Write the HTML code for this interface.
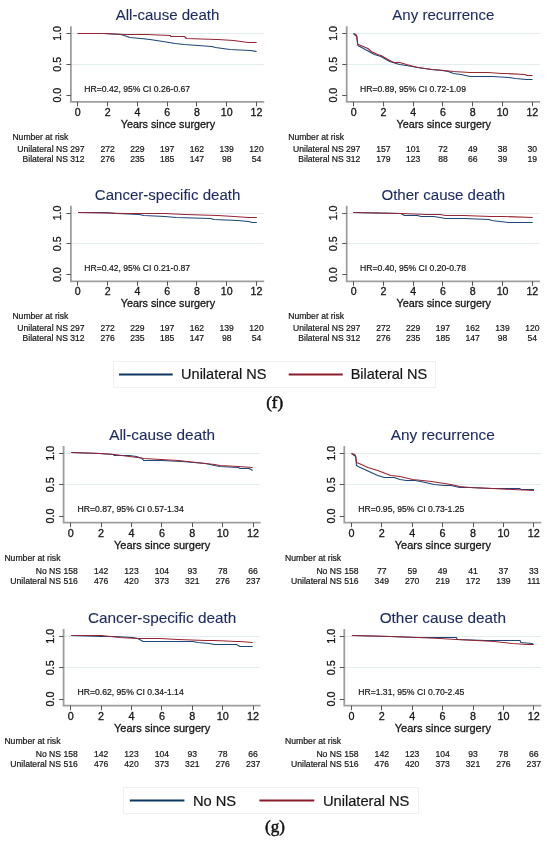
<!DOCTYPE html><html><head><meta charset="utf-8"><title>Kaplan-Meier curves</title><style>html,body{margin:0;padding:0;background:#fff;width:550px;height:841px;overflow:hidden}svg{display:block}text{font-family:"Liberation Sans",Arial,sans-serif}.lab{font-family:"Liberation Serif","Times New Roman",serif}</style></head><body>
<svg width="550" height="841" viewBox="0 0 550 841">
<rect width="550" height="841" fill="#fff"/>
<line x1="71.9" y1="33.5" x2="264.2" y2="33.5" stroke="#e3eded" stroke-width="1"/>
<line x1="71.9" y1="64.5" x2="264.2" y2="64.5" stroke="#e3eded" stroke-width="1"/>
<polyline points="77.7,33.5 104,33.5 121,34.5 124,35.5 130,37.5 141,38.5 150,39.5 163,41.5 175,43.5 184.5,44.5 211.8,46.5 215.5,47.5 230,49.5 250,50.5 256.6,51.5" fill="none" stroke="#1b4677" stroke-width="1.1" stroke-linejoin="round"/>
<polyline points="77.7,33.5 104,33.5 125,34.5 147,34.5 170,35.5 171,36.5 184.5,36.5 186.4,38.5 217.3,39.5 218,39.5 233.6,40.5 248.2,42.5 256.6,42.5" fill="none" stroke="#972434" stroke-width="1.1" stroke-linejoin="round"/>
<path d="M70.9 26.3 V101.8 H264.2" fill="none" stroke="#9e9e9e" stroke-width="1.8"/>
<line x1="66.4" y1="95.5" x2="70.9" y2="95.5" stroke="#555555" stroke-width="1"/>
<text transform="translate(61.4 95.2) rotate(-90)" font-size="10.6" text-anchor="middle" fill="#161616" stroke="#161616" stroke-width="0.3">0.0</text>
<line x1="66.4" y1="64.5" x2="70.9" y2="64.5" stroke="#555555" stroke-width="1"/>
<text transform="translate(61.4 64.35) rotate(-90)" font-size="10.6" text-anchor="middle" fill="#161616" stroke="#161616" stroke-width="0.3">0.5</text>
<line x1="66.4" y1="33.5" x2="70.9" y2="33.5" stroke="#555555" stroke-width="1"/>
<text transform="translate(61.4 33.5) rotate(-90)" font-size="10.6" text-anchor="middle" fill="#161616" stroke="#161616" stroke-width="0.3">1.0</text>
<line x1="77.5" y1="101.8" x2="77.5" y2="106.3" stroke="#555555" stroke-width="1"/>
<text x="77.8" y="115.8" font-size="10.6" text-anchor="middle" fill="#161616" stroke="#161616" stroke-width="0.3">0</text>
<line x1="107.5" y1="101.8" x2="107.5" y2="106.3" stroke="#555555" stroke-width="1"/>
<text x="107.59" y="115.8" font-size="10.6" text-anchor="middle" fill="#161616" stroke="#161616" stroke-width="0.3">2</text>
<line x1="137.5" y1="101.8" x2="137.5" y2="106.3" stroke="#555555" stroke-width="1"/>
<text x="137.37" y="115.8" font-size="10.6" text-anchor="middle" fill="#161616" stroke="#161616" stroke-width="0.3">4</text>
<line x1="167.5" y1="101.8" x2="167.5" y2="106.3" stroke="#555555" stroke-width="1"/>
<text x="167.16" y="115.8" font-size="10.6" text-anchor="middle" fill="#161616" stroke="#161616" stroke-width="0.3">6</text>
<line x1="196.5" y1="101.8" x2="196.5" y2="106.3" stroke="#555555" stroke-width="1"/>
<text x="196.94" y="115.8" font-size="10.6" text-anchor="middle" fill="#161616" stroke="#161616" stroke-width="0.3">8</text>
<line x1="226.5" y1="101.8" x2="226.5" y2="106.3" stroke="#555555" stroke-width="1"/>
<text x="226.73" y="115.8" font-size="10.6" text-anchor="middle" fill="#161616" stroke="#161616" stroke-width="0.3">10</text>
<line x1="256.5" y1="101.8" x2="256.5" y2="106.3" stroke="#555555" stroke-width="1"/>
<text x="256.52" y="115.8" font-size="10.6" text-anchor="middle" fill="#161616" stroke="#161616" stroke-width="0.3">12</text>
<text x="167.9" y="127.7" font-size="10.8" text-anchor="middle" fill="#161616" stroke="#161616" stroke-width="0.3">Years since surgery</text>
<text x="167.55" y="20.1" font-size="15.05" text-anchor="middle" fill="#1e2b5e" stroke="#1e2b5e" stroke-width="0.12">All-cause death</text>
<text x="84.3" y="91.8" font-size="8.6" text-anchor="start" fill="#161616" stroke="#161616" stroke-width="0.2">HR=0.42, 95% CI 0.26-0.67</text>
<text x="12.4" y="139.5" font-size="8.6" text-anchor="start" fill="#161616" stroke="#161616" stroke-width="0.2">Number at risk</text>
<text x="84.6" y="151.8" font-size="8.6" text-anchor="end" fill="#161616" stroke="#161616" stroke-width="0.2">Unilateral NS 297</text>
<text x="107.59" y="151.8" font-size="8.6" text-anchor="middle" fill="#161616" stroke="#161616" stroke-width="0.2">272</text>
<text x="137.37" y="151.8" font-size="8.6" text-anchor="middle" fill="#161616" stroke="#161616" stroke-width="0.2">229</text>
<text x="167.16" y="151.8" font-size="8.6" text-anchor="middle" fill="#161616" stroke="#161616" stroke-width="0.2">197</text>
<text x="196.94" y="151.8" font-size="8.6" text-anchor="middle" fill="#161616" stroke="#161616" stroke-width="0.2">162</text>
<text x="226.73" y="151.8" font-size="8.6" text-anchor="middle" fill="#161616" stroke="#161616" stroke-width="0.2">139</text>
<text x="256.52" y="151.8" font-size="8.6" text-anchor="middle" fill="#161616" stroke="#161616" stroke-width="0.2">120</text>
<text x="84.6" y="161.5" font-size="8.6" text-anchor="end" fill="#161616" stroke="#161616" stroke-width="0.2">Bilateral NS 312</text>
<text x="107.59" y="161.5" font-size="8.6" text-anchor="middle" fill="#161616" stroke="#161616" stroke-width="0.2">276</text>
<text x="137.37" y="161.5" font-size="8.6" text-anchor="middle" fill="#161616" stroke="#161616" stroke-width="0.2">235</text>
<text x="167.16" y="161.5" font-size="8.6" text-anchor="middle" fill="#161616" stroke="#161616" stroke-width="0.2">185</text>
<text x="196.94" y="161.5" font-size="8.6" text-anchor="middle" fill="#161616" stroke="#161616" stroke-width="0.2">147</text>
<text x="226.73" y="161.5" font-size="8.6" text-anchor="middle" fill="#161616" stroke="#161616" stroke-width="0.2">98</text>
<text x="256.52" y="161.5" font-size="8.6" text-anchor="middle" fill="#161616" stroke="#161616" stroke-width="0.2">54</text>
<line x1="347.7" y1="33.5" x2="540" y2="33.5" stroke="#e3eded" stroke-width="1"/>
<line x1="347.7" y1="64.5" x2="540" y2="64.5" stroke="#e3eded" stroke-width="1"/>
<polyline points="353.5,33.5 356.8,36.5 357.9,45.5 363.5,48.5 374.4,54.5 381,56.5 389.7,61.5 399.5,64.5 406.4,65.5 417.8,67.5 431.8,69.5 442,70.5 448.3,71.5 453.4,73.5 461,74.5 470,76.5 478.6,76.5 492.3,76.5 508.7,77.5 515.5,78.5 526.4,79.5 532.5,79.5" fill="none" stroke="#1b4677" stroke-width="1.1" stroke-linejoin="round"/>
<polyline points="353.5,33.5 355.9,34.5 356.8,36.5 357.5,43.5 358.3,44.5 367.9,48.5 371.2,51.5 377.7,54.5 381,55.5 389.7,60.5 394.1,62.5 399.5,62.5 403.2,63.5 406.4,64.5 417.8,67.5 431.8,69.5 444.5,70.5 453.4,71.5 470,72.5 488.2,72.5 501.8,73.5 504.6,73.5 525,74.5 527.1,75.5 532.5,75.5" fill="none" stroke="#972434" stroke-width="1.1" stroke-linejoin="round"/>
<path d="M346.7 26.3 V101.8 H540" fill="none" stroke="#9e9e9e" stroke-width="1.8"/>
<line x1="342.2" y1="95.5" x2="346.7" y2="95.5" stroke="#555555" stroke-width="1"/>
<text transform="translate(337.2 95.2) rotate(-90)" font-size="10.6" text-anchor="middle" fill="#161616" stroke="#161616" stroke-width="0.3">0.0</text>
<line x1="342.2" y1="64.5" x2="346.7" y2="64.5" stroke="#555555" stroke-width="1"/>
<text transform="translate(337.2 64.35) rotate(-90)" font-size="10.6" text-anchor="middle" fill="#161616" stroke="#161616" stroke-width="0.3">0.5</text>
<line x1="342.2" y1="33.5" x2="346.7" y2="33.5" stroke="#555555" stroke-width="1"/>
<text transform="translate(337.2 33.5) rotate(-90)" font-size="10.6" text-anchor="middle" fill="#161616" stroke="#161616" stroke-width="0.3">1.0</text>
<line x1="353.5" y1="101.8" x2="353.5" y2="106.3" stroke="#555555" stroke-width="1"/>
<text x="353.6" y="115.8" font-size="10.6" text-anchor="middle" fill="#161616" stroke="#161616" stroke-width="0.3">0</text>
<line x1="383.5" y1="101.8" x2="383.5" y2="106.3" stroke="#555555" stroke-width="1"/>
<text x="383.39" y="115.8" font-size="10.6" text-anchor="middle" fill="#161616" stroke="#161616" stroke-width="0.3">2</text>
<line x1="413.5" y1="101.8" x2="413.5" y2="106.3" stroke="#555555" stroke-width="1"/>
<text x="413.17" y="115.8" font-size="10.6" text-anchor="middle" fill="#161616" stroke="#161616" stroke-width="0.3">4</text>
<line x1="442.5" y1="101.8" x2="442.5" y2="106.3" stroke="#555555" stroke-width="1"/>
<text x="442.96" y="115.8" font-size="10.6" text-anchor="middle" fill="#161616" stroke="#161616" stroke-width="0.3">6</text>
<line x1="472.5" y1="101.8" x2="472.5" y2="106.3" stroke="#555555" stroke-width="1"/>
<text x="472.74" y="115.8" font-size="10.6" text-anchor="middle" fill="#161616" stroke="#161616" stroke-width="0.3">8</text>
<line x1="502.5" y1="101.8" x2="502.5" y2="106.3" stroke="#555555" stroke-width="1"/>
<text x="502.53" y="115.8" font-size="10.6" text-anchor="middle" fill="#161616" stroke="#161616" stroke-width="0.3">10</text>
<line x1="532.5" y1="101.8" x2="532.5" y2="106.3" stroke="#555555" stroke-width="1"/>
<text x="532.32" y="115.8" font-size="10.6" text-anchor="middle" fill="#161616" stroke="#161616" stroke-width="0.3">12</text>
<text x="443.7" y="127.7" font-size="10.8" text-anchor="middle" fill="#161616" stroke="#161616" stroke-width="0.3">Years since surgery</text>
<text x="443.35" y="20.1" font-size="15.05" text-anchor="middle" fill="#1e2b5e" stroke="#1e2b5e" stroke-width="0.12">Any recurrence</text>
<text x="360.1" y="91.8" font-size="8.6" text-anchor="start" fill="#161616" stroke="#161616" stroke-width="0.2">HR=0.89, 95% CI 0.72-1.09</text>
<text x="288.2" y="139.5" font-size="8.6" text-anchor="start" fill="#161616" stroke="#161616" stroke-width="0.2">Number at risk</text>
<text x="360.4" y="151.8" font-size="8.6" text-anchor="end" fill="#161616" stroke="#161616" stroke-width="0.2">Unilateral NS 297</text>
<text x="383.39" y="151.8" font-size="8.6" text-anchor="middle" fill="#161616" stroke="#161616" stroke-width="0.2">157</text>
<text x="413.17" y="151.8" font-size="8.6" text-anchor="middle" fill="#161616" stroke="#161616" stroke-width="0.2">101</text>
<text x="442.96" y="151.8" font-size="8.6" text-anchor="middle" fill="#161616" stroke="#161616" stroke-width="0.2">72</text>
<text x="472.74" y="151.8" font-size="8.6" text-anchor="middle" fill="#161616" stroke="#161616" stroke-width="0.2">49</text>
<text x="502.53" y="151.8" font-size="8.6" text-anchor="middle" fill="#161616" stroke="#161616" stroke-width="0.2">38</text>
<text x="532.32" y="151.8" font-size="8.6" text-anchor="middle" fill="#161616" stroke="#161616" stroke-width="0.2">30</text>
<text x="360.4" y="161.5" font-size="8.6" text-anchor="end" fill="#161616" stroke="#161616" stroke-width="0.2">Bilateral NS 312</text>
<text x="383.39" y="161.5" font-size="8.6" text-anchor="middle" fill="#161616" stroke="#161616" stroke-width="0.2">179</text>
<text x="413.17" y="161.5" font-size="8.6" text-anchor="middle" fill="#161616" stroke="#161616" stroke-width="0.2">123</text>
<text x="442.96" y="161.5" font-size="8.6" text-anchor="middle" fill="#161616" stroke="#161616" stroke-width="0.2">88</text>
<text x="472.74" y="161.5" font-size="8.6" text-anchor="middle" fill="#161616" stroke="#161616" stroke-width="0.2">66</text>
<text x="502.53" y="161.5" font-size="8.6" text-anchor="middle" fill="#161616" stroke="#161616" stroke-width="0.2">39</text>
<text x="532.32" y="161.5" font-size="8.6" text-anchor="middle" fill="#161616" stroke="#161616" stroke-width="0.2">19</text>
<line x1="71.9" y1="213.5" x2="264.2" y2="213.5" stroke="#e3eded" stroke-width="1"/>
<line x1="71.9" y1="243.5" x2="264.2" y2="243.5" stroke="#e3eded" stroke-width="1"/>
<polyline points="78.1,212.5 106,212.5 116.5,213.5 139,214.5 144,215.5 165,216.5 176,217.5 210.5,218.5 214,219.5 237.7,220.5 248.6,221.5 252.3,222.5 256.8,222.5" fill="none" stroke="#1b4677" stroke-width="1.1" stroke-linejoin="round"/>
<polyline points="78.1,212.5 126.8,213.5 165,213.5 185,214.5 217.7,215.5 234,216.5 248.6,217.5 256.8,217.5" fill="none" stroke="#972434" stroke-width="1.1" stroke-linejoin="round"/>
<path d="M70.9 205.8 V281.3 H264.2" fill="none" stroke="#9e9e9e" stroke-width="1.8"/>
<line x1="66.4" y1="274.5" x2="70.9" y2="274.5" stroke="#555555" stroke-width="1"/>
<text transform="translate(61.4 274.7) rotate(-90)" font-size="10.6" text-anchor="middle" fill="#161616" stroke="#161616" stroke-width="0.3">0.0</text>
<line x1="66.4" y1="243.5" x2="70.9" y2="243.5" stroke="#555555" stroke-width="1"/>
<text transform="translate(61.4 243.85) rotate(-90)" font-size="10.6" text-anchor="middle" fill="#161616" stroke="#161616" stroke-width="0.3">0.5</text>
<line x1="66.4" y1="213.5" x2="70.9" y2="213.5" stroke="#555555" stroke-width="1"/>
<text transform="translate(61.4 213) rotate(-90)" font-size="10.6" text-anchor="middle" fill="#161616" stroke="#161616" stroke-width="0.3">1.0</text>
<line x1="77.5" y1="281.3" x2="77.5" y2="285.8" stroke="#555555" stroke-width="1"/>
<text x="77.8" y="295.3" font-size="10.6" text-anchor="middle" fill="#161616" stroke="#161616" stroke-width="0.3">0</text>
<line x1="107.5" y1="281.3" x2="107.5" y2="285.8" stroke="#555555" stroke-width="1"/>
<text x="107.59" y="295.3" font-size="10.6" text-anchor="middle" fill="#161616" stroke="#161616" stroke-width="0.3">2</text>
<line x1="137.5" y1="281.3" x2="137.5" y2="285.8" stroke="#555555" stroke-width="1"/>
<text x="137.37" y="295.3" font-size="10.6" text-anchor="middle" fill="#161616" stroke="#161616" stroke-width="0.3">4</text>
<line x1="167.5" y1="281.3" x2="167.5" y2="285.8" stroke="#555555" stroke-width="1"/>
<text x="167.16" y="295.3" font-size="10.6" text-anchor="middle" fill="#161616" stroke="#161616" stroke-width="0.3">6</text>
<line x1="196.5" y1="281.3" x2="196.5" y2="285.8" stroke="#555555" stroke-width="1"/>
<text x="196.94" y="295.3" font-size="10.6" text-anchor="middle" fill="#161616" stroke="#161616" stroke-width="0.3">8</text>
<line x1="226.5" y1="281.3" x2="226.5" y2="285.8" stroke="#555555" stroke-width="1"/>
<text x="226.73" y="295.3" font-size="10.6" text-anchor="middle" fill="#161616" stroke="#161616" stroke-width="0.3">10</text>
<line x1="256.5" y1="281.3" x2="256.5" y2="285.8" stroke="#555555" stroke-width="1"/>
<text x="256.52" y="295.3" font-size="10.6" text-anchor="middle" fill="#161616" stroke="#161616" stroke-width="0.3">12</text>
<text x="167.9" y="307.2" font-size="10.8" text-anchor="middle" fill="#161616" stroke="#161616" stroke-width="0.3">Years since surgery</text>
<text x="167.55" y="199.6" font-size="15.05" text-anchor="middle" fill="#1e2b5e" stroke="#1e2b5e" stroke-width="0.12">Cancer-specific death</text>
<text x="84.3" y="271.3" font-size="8.6" text-anchor="start" fill="#161616" stroke="#161616" stroke-width="0.2">HR=0.42, 95% CI 0.21-0.87</text>
<text x="12.4" y="319" font-size="8.6" text-anchor="start" fill="#161616" stroke="#161616" stroke-width="0.2">Number at risk</text>
<text x="84.6" y="331.3" font-size="8.6" text-anchor="end" fill="#161616" stroke="#161616" stroke-width="0.2">Unilateral NS 297</text>
<text x="107.59" y="331.3" font-size="8.6" text-anchor="middle" fill="#161616" stroke="#161616" stroke-width="0.2">272</text>
<text x="137.37" y="331.3" font-size="8.6" text-anchor="middle" fill="#161616" stroke="#161616" stroke-width="0.2">229</text>
<text x="167.16" y="331.3" font-size="8.6" text-anchor="middle" fill="#161616" stroke="#161616" stroke-width="0.2">197</text>
<text x="196.94" y="331.3" font-size="8.6" text-anchor="middle" fill="#161616" stroke="#161616" stroke-width="0.2">162</text>
<text x="226.73" y="331.3" font-size="8.6" text-anchor="middle" fill="#161616" stroke="#161616" stroke-width="0.2">139</text>
<text x="256.52" y="331.3" font-size="8.6" text-anchor="middle" fill="#161616" stroke="#161616" stroke-width="0.2">120</text>
<text x="84.6" y="341" font-size="8.6" text-anchor="end" fill="#161616" stroke="#161616" stroke-width="0.2">Bilateral NS 312</text>
<text x="107.59" y="341" font-size="8.6" text-anchor="middle" fill="#161616" stroke="#161616" stroke-width="0.2">276</text>
<text x="137.37" y="341" font-size="8.6" text-anchor="middle" fill="#161616" stroke="#161616" stroke-width="0.2">235</text>
<text x="167.16" y="341" font-size="8.6" text-anchor="middle" fill="#161616" stroke="#161616" stroke-width="0.2">185</text>
<text x="196.94" y="341" font-size="8.6" text-anchor="middle" fill="#161616" stroke="#161616" stroke-width="0.2">147</text>
<text x="226.73" y="341" font-size="8.6" text-anchor="middle" fill="#161616" stroke="#161616" stroke-width="0.2">98</text>
<text x="256.52" y="341" font-size="8.6" text-anchor="middle" fill="#161616" stroke="#161616" stroke-width="0.2">54</text>
<line x1="347.7" y1="213.5" x2="540" y2="213.5" stroke="#e3eded" stroke-width="1"/>
<line x1="347.7" y1="243.5" x2="540" y2="243.5" stroke="#e3eded" stroke-width="1"/>
<polyline points="353.3,212.5 401,213.5 404.5,215.5 417.3,215.5 421,216.5 433.6,216.5 440,217.5 445.5,218.5 463.6,218.5 489,219.5 491.8,220.5 500,221.5 509,222.5 516.4,222.5 532.7,222.5" fill="none" stroke="#1b4677" stroke-width="1.1" stroke-linejoin="round"/>
<polyline points="353.3,212.5 401,213.5 426.4,214.5 440,214.5 445.5,215.5 461.8,215.5 463.6,215.5 490.9,216.5 503.6,216.5 532.7,217.5" fill="none" stroke="#972434" stroke-width="1.1" stroke-linejoin="round"/>
<path d="M346.7 205.8 V281.3 H540" fill="none" stroke="#9e9e9e" stroke-width="1.8"/>
<line x1="342.2" y1="274.5" x2="346.7" y2="274.5" stroke="#555555" stroke-width="1"/>
<text transform="translate(337.2 274.7) rotate(-90)" font-size="10.6" text-anchor="middle" fill="#161616" stroke="#161616" stroke-width="0.3">0.0</text>
<line x1="342.2" y1="243.5" x2="346.7" y2="243.5" stroke="#555555" stroke-width="1"/>
<text transform="translate(337.2 243.85) rotate(-90)" font-size="10.6" text-anchor="middle" fill="#161616" stroke="#161616" stroke-width="0.3">0.5</text>
<line x1="342.2" y1="213.5" x2="346.7" y2="213.5" stroke="#555555" stroke-width="1"/>
<text transform="translate(337.2 213) rotate(-90)" font-size="10.6" text-anchor="middle" fill="#161616" stroke="#161616" stroke-width="0.3">1.0</text>
<line x1="353.5" y1="281.3" x2="353.5" y2="285.8" stroke="#555555" stroke-width="1"/>
<text x="353.6" y="295.3" font-size="10.6" text-anchor="middle" fill="#161616" stroke="#161616" stroke-width="0.3">0</text>
<line x1="383.5" y1="281.3" x2="383.5" y2="285.8" stroke="#555555" stroke-width="1"/>
<text x="383.39" y="295.3" font-size="10.6" text-anchor="middle" fill="#161616" stroke="#161616" stroke-width="0.3">2</text>
<line x1="413.5" y1="281.3" x2="413.5" y2="285.8" stroke="#555555" stroke-width="1"/>
<text x="413.17" y="295.3" font-size="10.6" text-anchor="middle" fill="#161616" stroke="#161616" stroke-width="0.3">4</text>
<line x1="442.5" y1="281.3" x2="442.5" y2="285.8" stroke="#555555" stroke-width="1"/>
<text x="442.96" y="295.3" font-size="10.6" text-anchor="middle" fill="#161616" stroke="#161616" stroke-width="0.3">6</text>
<line x1="472.5" y1="281.3" x2="472.5" y2="285.8" stroke="#555555" stroke-width="1"/>
<text x="472.74" y="295.3" font-size="10.6" text-anchor="middle" fill="#161616" stroke="#161616" stroke-width="0.3">8</text>
<line x1="502.5" y1="281.3" x2="502.5" y2="285.8" stroke="#555555" stroke-width="1"/>
<text x="502.53" y="295.3" font-size="10.6" text-anchor="middle" fill="#161616" stroke="#161616" stroke-width="0.3">10</text>
<line x1="532.5" y1="281.3" x2="532.5" y2="285.8" stroke="#555555" stroke-width="1"/>
<text x="532.32" y="295.3" font-size="10.6" text-anchor="middle" fill="#161616" stroke="#161616" stroke-width="0.3">12</text>
<text x="443.7" y="307.2" font-size="10.8" text-anchor="middle" fill="#161616" stroke="#161616" stroke-width="0.3">Years since surgery</text>
<text x="443.35" y="199.6" font-size="15.05" text-anchor="middle" fill="#1e2b5e" stroke="#1e2b5e" stroke-width="0.12">Other cause death</text>
<text x="360.1" y="271.3" font-size="8.6" text-anchor="start" fill="#161616" stroke="#161616" stroke-width="0.2">HR=0.40, 95% CI 0.20-0.78</text>
<text x="288.2" y="319" font-size="8.6" text-anchor="start" fill="#161616" stroke="#161616" stroke-width="0.2">Number at risk</text>
<text x="360.4" y="331.3" font-size="8.6" text-anchor="end" fill="#161616" stroke="#161616" stroke-width="0.2">Unilateral NS 297</text>
<text x="383.39" y="331.3" font-size="8.6" text-anchor="middle" fill="#161616" stroke="#161616" stroke-width="0.2">272</text>
<text x="413.17" y="331.3" font-size="8.6" text-anchor="middle" fill="#161616" stroke="#161616" stroke-width="0.2">229</text>
<text x="442.96" y="331.3" font-size="8.6" text-anchor="middle" fill="#161616" stroke="#161616" stroke-width="0.2">197</text>
<text x="472.74" y="331.3" font-size="8.6" text-anchor="middle" fill="#161616" stroke="#161616" stroke-width="0.2">162</text>
<text x="502.53" y="331.3" font-size="8.6" text-anchor="middle" fill="#161616" stroke="#161616" stroke-width="0.2">139</text>
<text x="532.32" y="331.3" font-size="8.6" text-anchor="middle" fill="#161616" stroke="#161616" stroke-width="0.2">120</text>
<text x="360.4" y="341" font-size="8.6" text-anchor="end" fill="#161616" stroke="#161616" stroke-width="0.2">Bilateral NS 312</text>
<text x="383.39" y="341" font-size="8.6" text-anchor="middle" fill="#161616" stroke="#161616" stroke-width="0.2">276</text>
<text x="413.17" y="341" font-size="8.6" text-anchor="middle" fill="#161616" stroke="#161616" stroke-width="0.2">235</text>
<text x="442.96" y="341" font-size="8.6" text-anchor="middle" fill="#161616" stroke="#161616" stroke-width="0.2">185</text>
<text x="472.74" y="341" font-size="8.6" text-anchor="middle" fill="#161616" stroke="#161616" stroke-width="0.2">147</text>
<text x="502.53" y="341" font-size="8.6" text-anchor="middle" fill="#161616" stroke="#161616" stroke-width="0.2">98</text>
<text x="532.32" y="341" font-size="8.6" text-anchor="middle" fill="#161616" stroke="#161616" stroke-width="0.2">54</text>
<line x1="64.6" y1="453.5" x2="260.6" y2="453.5" stroke="#e3eded" stroke-width="1"/>
<line x1="64.6" y1="484.5" x2="260.6" y2="484.5" stroke="#e3eded" stroke-width="1"/>
<polyline points="71,452.5 100,453.5 113.1,454.5 114.5,455.5 123.3,455.5 129.1,455.5 136.4,456.5 142.2,458.5 143.6,460.5 161.1,460.5 181.8,461.5 205.5,463.5 214.5,465.5 220,466.5 238.2,467.5 240,468.5 249.1,468.5 252.7,470.5" fill="none" stroke="#1b4677" stroke-width="1.1" stroke-linejoin="round"/>
<polyline points="71,452.5 100,453.5 114.5,454.5 129.1,456.5 137.8,457.5 143.6,458.5 161.1,459.5 178.2,460.5 196.4,462.5 214.5,464.5 220,465.5 238.2,466.5 252.7,467.5" fill="none" stroke="#972434" stroke-width="1.1" stroke-linejoin="round"/>
<path d="M63.6 446 V522.6 H260.6" fill="none" stroke="#9e9e9e" stroke-width="1.8"/>
<line x1="59.1" y1="516.5" x2="63.6" y2="516.5" stroke="#555555" stroke-width="1"/>
<text transform="translate(54 516.1) rotate(-90)" font-size="10.8" text-anchor="middle" fill="#161616" stroke="#161616" stroke-width="0.3">0.0</text>
<line x1="59.1" y1="484.5" x2="63.6" y2="484.5" stroke="#555555" stroke-width="1"/>
<text transform="translate(54 484.7) rotate(-90)" font-size="10.8" text-anchor="middle" fill="#161616" stroke="#161616" stroke-width="0.3">0.5</text>
<line x1="59.1" y1="453.5" x2="63.6" y2="453.5" stroke="#555555" stroke-width="1"/>
<text transform="translate(54 453.3) rotate(-90)" font-size="10.8" text-anchor="middle" fill="#161616" stroke="#161616" stroke-width="0.3">1.0</text>
<line x1="70.5" y1="522.6" x2="70.5" y2="527.1" stroke="#555555" stroke-width="1"/>
<text x="70.7" y="537.3" font-size="10.8" text-anchor="middle" fill="#161616" stroke="#161616" stroke-width="0.3">0</text>
<line x1="101.5" y1="522.6" x2="101.5" y2="527.1" stroke="#555555" stroke-width="1"/>
<text x="101.1" y="537.3" font-size="10.8" text-anchor="middle" fill="#161616" stroke="#161616" stroke-width="0.3">2</text>
<line x1="131.5" y1="522.6" x2="131.5" y2="527.1" stroke="#555555" stroke-width="1"/>
<text x="131.5" y="537.3" font-size="10.8" text-anchor="middle" fill="#161616" stroke="#161616" stroke-width="0.3">4</text>
<line x1="161.5" y1="522.6" x2="161.5" y2="527.1" stroke="#555555" stroke-width="1"/>
<text x="161.9" y="537.3" font-size="10.8" text-anchor="middle" fill="#161616" stroke="#161616" stroke-width="0.3">6</text>
<line x1="192.5" y1="522.6" x2="192.5" y2="527.1" stroke="#555555" stroke-width="1"/>
<text x="192.3" y="537.3" font-size="10.8" text-anchor="middle" fill="#161616" stroke="#161616" stroke-width="0.3">8</text>
<line x1="222.5" y1="522.6" x2="222.5" y2="527.1" stroke="#555555" stroke-width="1"/>
<text x="222.7" y="537.3" font-size="10.8" text-anchor="middle" fill="#161616" stroke="#161616" stroke-width="0.3">10</text>
<line x1="253.5" y1="522.6" x2="253.5" y2="527.1" stroke="#555555" stroke-width="1"/>
<text x="253.1" y="537.3" font-size="10.8" text-anchor="middle" fill="#161616" stroke="#161616" stroke-width="0.3">12</text>
<text x="162.1" y="549.1" font-size="11" text-anchor="middle" fill="#161616" stroke="#161616" stroke-width="0.3">Years since surgery</text>
<text x="162.1" y="440.4" font-size="15.35" text-anchor="middle" fill="#1e2b5e" stroke="#1e2b5e" stroke-width="0.12">All-cause death</text>
<text x="77.5" y="512.2" font-size="8.65" text-anchor="start" fill="#161616" stroke="#161616" stroke-width="0.2">HR=0.87, 95% CI 0.57-1.34</text>
<text x="4.4" y="560.9" font-size="8.65" text-anchor="start" fill="#161616" stroke="#161616" stroke-width="0.2">Number at risk</text>
<text x="77.9" y="573.7" font-size="8.65" text-anchor="end" fill="#161616" stroke="#161616" stroke-width="0.2">No NS 158</text>
<text x="101.1" y="573.7" font-size="8.65" text-anchor="middle" fill="#161616" stroke="#161616" stroke-width="0.2">142</text>
<text x="131.5" y="573.7" font-size="8.65" text-anchor="middle" fill="#161616" stroke="#161616" stroke-width="0.2">123</text>
<text x="161.9" y="573.7" font-size="8.65" text-anchor="middle" fill="#161616" stroke="#161616" stroke-width="0.2">104</text>
<text x="192.3" y="573.7" font-size="8.65" text-anchor="middle" fill="#161616" stroke="#161616" stroke-width="0.2">93</text>
<text x="222.7" y="573.7" font-size="8.65" text-anchor="middle" fill="#161616" stroke="#161616" stroke-width="0.2">78</text>
<text x="253.1" y="573.7" font-size="8.65" text-anchor="middle" fill="#161616" stroke="#161616" stroke-width="0.2">66</text>
<text x="77.9" y="583.5" font-size="8.65" text-anchor="end" fill="#161616" stroke="#161616" stroke-width="0.2">Unilateral NS 516</text>
<text x="101.1" y="583.5" font-size="8.65" text-anchor="middle" fill="#161616" stroke="#161616" stroke-width="0.2">476</text>
<text x="131.5" y="583.5" font-size="8.65" text-anchor="middle" fill="#161616" stroke="#161616" stroke-width="0.2">420</text>
<text x="161.9" y="583.5" font-size="8.65" text-anchor="middle" fill="#161616" stroke="#161616" stroke-width="0.2">373</text>
<text x="192.3" y="583.5" font-size="8.65" text-anchor="middle" fill="#161616" stroke="#161616" stroke-width="0.2">321</text>
<text x="222.7" y="583.5" font-size="8.65" text-anchor="middle" fill="#161616" stroke="#161616" stroke-width="0.2">276</text>
<text x="253.1" y="583.5" font-size="8.65" text-anchor="middle" fill="#161616" stroke="#161616" stroke-width="0.2">237</text>
<line x1="345.3" y1="453.5" x2="541.3" y2="453.5" stroke="#e3eded" stroke-width="1"/>
<line x1="345.3" y1="484.5" x2="541.3" y2="484.5" stroke="#e3eded" stroke-width="1"/>
<polyline points="351.5,453.5 355.7,456.5 356.5,465.5 358.1,466.5 366.8,470.5 377.7,475.5 384.3,477.5 394.1,477.5 400,479.5 406.4,480.5 415.3,480.5 425.4,482.5 434.4,484.5 444.5,485.5 450.9,485.5 459.8,487.5 470,487.5 492.3,488.5 511.4,488.5 514.1,488.5 519.6,488.5 520.9,489.5 533.9,489.5" fill="none" stroke="#1b4677" stroke-width="1.1" stroke-linejoin="round"/>
<polyline points="351.5,453.5 354.8,454.5 355.7,456.5 356.5,462.5 359.2,463.5 367.9,467.5 377.7,470.5 390.8,475.5 400,476.5 412.7,479.5 431.8,481.5 444.5,483.5 450.9,484.5 459.8,486.5 470,487.5 492.3,488.5 512.7,489.5 533.9,490.5" fill="none" stroke="#972434" stroke-width="1.1" stroke-linejoin="round"/>
<path d="M344.3 446 V522.6 H541.3" fill="none" stroke="#9e9e9e" stroke-width="1.8"/>
<line x1="339.8" y1="516.5" x2="344.3" y2="516.5" stroke="#555555" stroke-width="1"/>
<text transform="translate(334.7 516.1) rotate(-90)" font-size="10.8" text-anchor="middle" fill="#161616" stroke="#161616" stroke-width="0.3">0.0</text>
<line x1="339.8" y1="484.5" x2="344.3" y2="484.5" stroke="#555555" stroke-width="1"/>
<text transform="translate(334.7 484.7) rotate(-90)" font-size="10.8" text-anchor="middle" fill="#161616" stroke="#161616" stroke-width="0.3">0.5</text>
<line x1="339.8" y1="453.5" x2="344.3" y2="453.5" stroke="#555555" stroke-width="1"/>
<text transform="translate(334.7 453.3) rotate(-90)" font-size="10.8" text-anchor="middle" fill="#161616" stroke="#161616" stroke-width="0.3">1.0</text>
<line x1="351.5" y1="522.6" x2="351.5" y2="527.1" stroke="#555555" stroke-width="1"/>
<text x="351.4" y="537.3" font-size="10.8" text-anchor="middle" fill="#161616" stroke="#161616" stroke-width="0.3">0</text>
<line x1="381.5" y1="522.6" x2="381.5" y2="527.1" stroke="#555555" stroke-width="1"/>
<text x="381.8" y="537.3" font-size="10.8" text-anchor="middle" fill="#161616" stroke="#161616" stroke-width="0.3">2</text>
<line x1="412.5" y1="522.6" x2="412.5" y2="527.1" stroke="#555555" stroke-width="1"/>
<text x="412.2" y="537.3" font-size="10.8" text-anchor="middle" fill="#161616" stroke="#161616" stroke-width="0.3">4</text>
<line x1="442.5" y1="522.6" x2="442.5" y2="527.1" stroke="#555555" stroke-width="1"/>
<text x="442.6" y="537.3" font-size="10.8" text-anchor="middle" fill="#161616" stroke="#161616" stroke-width="0.3">6</text>
<line x1="473.5" y1="522.6" x2="473.5" y2="527.1" stroke="#555555" stroke-width="1"/>
<text x="473" y="537.3" font-size="10.8" text-anchor="middle" fill="#161616" stroke="#161616" stroke-width="0.3">8</text>
<line x1="503.5" y1="522.6" x2="503.5" y2="527.1" stroke="#555555" stroke-width="1"/>
<text x="503.4" y="537.3" font-size="10.8" text-anchor="middle" fill="#161616" stroke="#161616" stroke-width="0.3">10</text>
<line x1="533.5" y1="522.6" x2="533.5" y2="527.1" stroke="#555555" stroke-width="1"/>
<text x="533.8" y="537.3" font-size="10.8" text-anchor="middle" fill="#161616" stroke="#161616" stroke-width="0.3">12</text>
<text x="442.8" y="549.1" font-size="11" text-anchor="middle" fill="#161616" stroke="#161616" stroke-width="0.3">Years since surgery</text>
<text x="442.8" y="440.4" font-size="15.35" text-anchor="middle" fill="#1e2b5e" stroke="#1e2b5e" stroke-width="0.12">Any recurrence</text>
<text x="358.2" y="512.2" font-size="8.65" text-anchor="start" fill="#161616" stroke="#161616" stroke-width="0.2">HR=0.95, 95% CI 0.73-1.25</text>
<text x="285.1" y="560.9" font-size="8.65" text-anchor="start" fill="#161616" stroke="#161616" stroke-width="0.2">Number at risk</text>
<text x="358.6" y="573.7" font-size="8.65" text-anchor="end" fill="#161616" stroke="#161616" stroke-width="0.2">No NS 158</text>
<text x="381.8" y="573.7" font-size="8.65" text-anchor="middle" fill="#161616" stroke="#161616" stroke-width="0.2">77</text>
<text x="412.2" y="573.7" font-size="8.65" text-anchor="middle" fill="#161616" stroke="#161616" stroke-width="0.2">59</text>
<text x="442.6" y="573.7" font-size="8.65" text-anchor="middle" fill="#161616" stroke="#161616" stroke-width="0.2">49</text>
<text x="473" y="573.7" font-size="8.65" text-anchor="middle" fill="#161616" stroke="#161616" stroke-width="0.2">41</text>
<text x="503.4" y="573.7" font-size="8.65" text-anchor="middle" fill="#161616" stroke="#161616" stroke-width="0.2">37</text>
<text x="533.8" y="573.7" font-size="8.65" text-anchor="middle" fill="#161616" stroke="#161616" stroke-width="0.2">33</text>
<text x="358.6" y="583.5" font-size="8.65" text-anchor="end" fill="#161616" stroke="#161616" stroke-width="0.2">Unilateral NS 516</text>
<text x="381.8" y="583.5" font-size="8.65" text-anchor="middle" fill="#161616" stroke="#161616" stroke-width="0.2">349</text>
<text x="412.2" y="583.5" font-size="8.65" text-anchor="middle" fill="#161616" stroke="#161616" stroke-width="0.2">270</text>
<text x="442.6" y="583.5" font-size="8.65" text-anchor="middle" fill="#161616" stroke="#161616" stroke-width="0.2">219</text>
<text x="473" y="583.5" font-size="8.65" text-anchor="middle" fill="#161616" stroke="#161616" stroke-width="0.2">172</text>
<text x="503.4" y="583.5" font-size="8.65" text-anchor="middle" fill="#161616" stroke="#161616" stroke-width="0.2">139</text>
<text x="533.8" y="583.5" font-size="8.65" text-anchor="middle" fill="#161616" stroke="#161616" stroke-width="0.2">111</text>
<line x1="64.6" y1="636.5" x2="260.6" y2="636.5" stroke="#e3eded" stroke-width="1"/>
<line x1="64.6" y1="667.5" x2="260.6" y2="667.5" stroke="#e3eded" stroke-width="1"/>
<polyline points="71,635.5 101.4,636.5 114.1,636.5 132.3,637.5 137.7,638.5 143.2,641.5 165,641.5 192.7,641.5 198.2,642.5 209.1,643.5 214.5,644.5 236.4,644.5 240,646.5 252.7,646.5" fill="none" stroke="#1b4677" stroke-width="1.1" stroke-linejoin="round"/>
<polyline points="71,635.5 101.4,635.5 119.5,637.5 137.7,638.5 160,638.5 178.2,639.5 205.5,640.5 214.5,640.5 236.4,641.5 240,641.5 252.7,642.5" fill="none" stroke="#972434" stroke-width="1.1" stroke-linejoin="round"/>
<path d="M63.6 629 V705.6 H260.6" fill="none" stroke="#9e9e9e" stroke-width="1.8"/>
<line x1="59.1" y1="699.5" x2="63.6" y2="699.5" stroke="#555555" stroke-width="1"/>
<text transform="translate(54 699.1) rotate(-90)" font-size="10.8" text-anchor="middle" fill="#161616" stroke="#161616" stroke-width="0.3">0.0</text>
<line x1="59.1" y1="667.5" x2="63.6" y2="667.5" stroke="#555555" stroke-width="1"/>
<text transform="translate(54 667.7) rotate(-90)" font-size="10.8" text-anchor="middle" fill="#161616" stroke="#161616" stroke-width="0.3">0.5</text>
<line x1="59.1" y1="636.5" x2="63.6" y2="636.5" stroke="#555555" stroke-width="1"/>
<text transform="translate(54 636.3) rotate(-90)" font-size="10.8" text-anchor="middle" fill="#161616" stroke="#161616" stroke-width="0.3">1.0</text>
<line x1="70.5" y1="705.6" x2="70.5" y2="710.1" stroke="#555555" stroke-width="1"/>
<text x="70.7" y="720.3" font-size="10.8" text-anchor="middle" fill="#161616" stroke="#161616" stroke-width="0.3">0</text>
<line x1="101.5" y1="705.6" x2="101.5" y2="710.1" stroke="#555555" stroke-width="1"/>
<text x="101.1" y="720.3" font-size="10.8" text-anchor="middle" fill="#161616" stroke="#161616" stroke-width="0.3">2</text>
<line x1="131.5" y1="705.6" x2="131.5" y2="710.1" stroke="#555555" stroke-width="1"/>
<text x="131.5" y="720.3" font-size="10.8" text-anchor="middle" fill="#161616" stroke="#161616" stroke-width="0.3">4</text>
<line x1="161.5" y1="705.6" x2="161.5" y2="710.1" stroke="#555555" stroke-width="1"/>
<text x="161.9" y="720.3" font-size="10.8" text-anchor="middle" fill="#161616" stroke="#161616" stroke-width="0.3">6</text>
<line x1="192.5" y1="705.6" x2="192.5" y2="710.1" stroke="#555555" stroke-width="1"/>
<text x="192.3" y="720.3" font-size="10.8" text-anchor="middle" fill="#161616" stroke="#161616" stroke-width="0.3">8</text>
<line x1="222.5" y1="705.6" x2="222.5" y2="710.1" stroke="#555555" stroke-width="1"/>
<text x="222.7" y="720.3" font-size="10.8" text-anchor="middle" fill="#161616" stroke="#161616" stroke-width="0.3">10</text>
<line x1="253.5" y1="705.6" x2="253.5" y2="710.1" stroke="#555555" stroke-width="1"/>
<text x="253.1" y="720.3" font-size="10.8" text-anchor="middle" fill="#161616" stroke="#161616" stroke-width="0.3">12</text>
<text x="162.1" y="732.1" font-size="11" text-anchor="middle" fill="#161616" stroke="#161616" stroke-width="0.3">Years since surgery</text>
<text x="162.1" y="623.4" font-size="15.35" text-anchor="middle" fill="#1e2b5e" stroke="#1e2b5e" stroke-width="0.12">Cancer-specific death</text>
<text x="77.5" y="695.2" font-size="8.65" text-anchor="start" fill="#161616" stroke="#161616" stroke-width="0.2">HR=0.62, 95% CI 0.34-1.14</text>
<text x="4.4" y="743.9" font-size="8.65" text-anchor="start" fill="#161616" stroke="#161616" stroke-width="0.2">Number at risk</text>
<text x="77.9" y="756.7" font-size="8.65" text-anchor="end" fill="#161616" stroke="#161616" stroke-width="0.2">No NS 158</text>
<text x="101.1" y="756.7" font-size="8.65" text-anchor="middle" fill="#161616" stroke="#161616" stroke-width="0.2">142</text>
<text x="131.5" y="756.7" font-size="8.65" text-anchor="middle" fill="#161616" stroke="#161616" stroke-width="0.2">123</text>
<text x="161.9" y="756.7" font-size="8.65" text-anchor="middle" fill="#161616" stroke="#161616" stroke-width="0.2">104</text>
<text x="192.3" y="756.7" font-size="8.65" text-anchor="middle" fill="#161616" stroke="#161616" stroke-width="0.2">93</text>
<text x="222.7" y="756.7" font-size="8.65" text-anchor="middle" fill="#161616" stroke="#161616" stroke-width="0.2">78</text>
<text x="253.1" y="756.7" font-size="8.65" text-anchor="middle" fill="#161616" stroke="#161616" stroke-width="0.2">66</text>
<text x="77.9" y="766.5" font-size="8.65" text-anchor="end" fill="#161616" stroke="#161616" stroke-width="0.2">Unilateral NS 516</text>
<text x="101.1" y="766.5" font-size="8.65" text-anchor="middle" fill="#161616" stroke="#161616" stroke-width="0.2">476</text>
<text x="131.5" y="766.5" font-size="8.65" text-anchor="middle" fill="#161616" stroke="#161616" stroke-width="0.2">420</text>
<text x="161.9" y="766.5" font-size="8.65" text-anchor="middle" fill="#161616" stroke="#161616" stroke-width="0.2">373</text>
<text x="192.3" y="766.5" font-size="8.65" text-anchor="middle" fill="#161616" stroke="#161616" stroke-width="0.2">321</text>
<text x="222.7" y="766.5" font-size="8.65" text-anchor="middle" fill="#161616" stroke="#161616" stroke-width="0.2">276</text>
<text x="253.1" y="766.5" font-size="8.65" text-anchor="middle" fill="#161616" stroke="#161616" stroke-width="0.2">237</text>
<line x1="345.3" y1="636.5" x2="541.3" y2="636.5" stroke="#e3eded" stroke-width="1"/>
<line x1="345.3" y1="667.5" x2="541.3" y2="667.5" stroke="#e3eded" stroke-width="1"/>
<polyline points="351.9,635.5 390.5,636.5 417.7,637.5 440,637.5 456.4,637.5 457.3,639.5 485.5,640.5 489.1,640.5 520,640.5 520.9,642.5 531.8,643.5 533.6,644.5" fill="none" stroke="#1b4677" stroke-width="1.1" stroke-linejoin="round"/>
<polyline points="351.9,635.5 390.5,636.5 417.7,637.5 440,638.5 456.4,639.5 476.4,640.5 494.5,641.5 512.7,643.5 527.3,644.5 533.6,644.5" fill="none" stroke="#972434" stroke-width="1.1" stroke-linejoin="round"/>
<path d="M344.3 629 V705.6 H541.3" fill="none" stroke="#9e9e9e" stroke-width="1.8"/>
<line x1="339.8" y1="699.5" x2="344.3" y2="699.5" stroke="#555555" stroke-width="1"/>
<text transform="translate(334.7 699.1) rotate(-90)" font-size="10.8" text-anchor="middle" fill="#161616" stroke="#161616" stroke-width="0.3">0.0</text>
<line x1="339.8" y1="667.5" x2="344.3" y2="667.5" stroke="#555555" stroke-width="1"/>
<text transform="translate(334.7 667.7) rotate(-90)" font-size="10.8" text-anchor="middle" fill="#161616" stroke="#161616" stroke-width="0.3">0.5</text>
<line x1="339.8" y1="636.5" x2="344.3" y2="636.5" stroke="#555555" stroke-width="1"/>
<text transform="translate(334.7 636.3) rotate(-90)" font-size="10.8" text-anchor="middle" fill="#161616" stroke="#161616" stroke-width="0.3">1.0</text>
<line x1="351.5" y1="705.6" x2="351.5" y2="710.1" stroke="#555555" stroke-width="1"/>
<text x="351.4" y="720.3" font-size="10.8" text-anchor="middle" fill="#161616" stroke="#161616" stroke-width="0.3">0</text>
<line x1="381.5" y1="705.6" x2="381.5" y2="710.1" stroke="#555555" stroke-width="1"/>
<text x="381.8" y="720.3" font-size="10.8" text-anchor="middle" fill="#161616" stroke="#161616" stroke-width="0.3">2</text>
<line x1="412.5" y1="705.6" x2="412.5" y2="710.1" stroke="#555555" stroke-width="1"/>
<text x="412.2" y="720.3" font-size="10.8" text-anchor="middle" fill="#161616" stroke="#161616" stroke-width="0.3">4</text>
<line x1="442.5" y1="705.6" x2="442.5" y2="710.1" stroke="#555555" stroke-width="1"/>
<text x="442.6" y="720.3" font-size="10.8" text-anchor="middle" fill="#161616" stroke="#161616" stroke-width="0.3">6</text>
<line x1="473.5" y1="705.6" x2="473.5" y2="710.1" stroke="#555555" stroke-width="1"/>
<text x="473" y="720.3" font-size="10.8" text-anchor="middle" fill="#161616" stroke="#161616" stroke-width="0.3">8</text>
<line x1="503.5" y1="705.6" x2="503.5" y2="710.1" stroke="#555555" stroke-width="1"/>
<text x="503.4" y="720.3" font-size="10.8" text-anchor="middle" fill="#161616" stroke="#161616" stroke-width="0.3">10</text>
<line x1="533.5" y1="705.6" x2="533.5" y2="710.1" stroke="#555555" stroke-width="1"/>
<text x="533.8" y="720.3" font-size="10.8" text-anchor="middle" fill="#161616" stroke="#161616" stroke-width="0.3">12</text>
<text x="442.8" y="732.1" font-size="11" text-anchor="middle" fill="#161616" stroke="#161616" stroke-width="0.3">Years since surgery</text>
<text x="442.8" y="623.4" font-size="15.35" text-anchor="middle" fill="#1e2b5e" stroke="#1e2b5e" stroke-width="0.12">Other cause death</text>
<text x="358.2" y="695.2" font-size="8.65" text-anchor="start" fill="#161616" stroke="#161616" stroke-width="0.2">HR=1.31, 95% CI 0.70-2.45</text>
<text x="285.1" y="743.9" font-size="8.65" text-anchor="start" fill="#161616" stroke="#161616" stroke-width="0.2">Number at risk</text>
<text x="358.6" y="756.7" font-size="8.65" text-anchor="end" fill="#161616" stroke="#161616" stroke-width="0.2">No NS 158</text>
<text x="381.8" y="756.7" font-size="8.65" text-anchor="middle" fill="#161616" stroke="#161616" stroke-width="0.2">142</text>
<text x="412.2" y="756.7" font-size="8.65" text-anchor="middle" fill="#161616" stroke="#161616" stroke-width="0.2">123</text>
<text x="442.6" y="756.7" font-size="8.65" text-anchor="middle" fill="#161616" stroke="#161616" stroke-width="0.2">104</text>
<text x="473" y="756.7" font-size="8.65" text-anchor="middle" fill="#161616" stroke="#161616" stroke-width="0.2">93</text>
<text x="503.4" y="756.7" font-size="8.65" text-anchor="middle" fill="#161616" stroke="#161616" stroke-width="0.2">78</text>
<text x="533.8" y="756.7" font-size="8.65" text-anchor="middle" fill="#161616" stroke="#161616" stroke-width="0.2">66</text>
<text x="358.6" y="766.5" font-size="8.65" text-anchor="end" fill="#161616" stroke="#161616" stroke-width="0.2">Unilateral NS 516</text>
<text x="381.8" y="766.5" font-size="8.65" text-anchor="middle" fill="#161616" stroke="#161616" stroke-width="0.2">476</text>
<text x="412.2" y="766.5" font-size="8.65" text-anchor="middle" fill="#161616" stroke="#161616" stroke-width="0.2">420</text>
<text x="442.6" y="766.5" font-size="8.65" text-anchor="middle" fill="#161616" stroke="#161616" stroke-width="0.2">373</text>
<text x="473" y="766.5" font-size="8.65" text-anchor="middle" fill="#161616" stroke="#161616" stroke-width="0.2">321</text>
<text x="503.4" y="766.5" font-size="8.65" text-anchor="middle" fill="#161616" stroke="#161616" stroke-width="0.2">276</text>
<text x="533.8" y="766.5" font-size="8.65" text-anchor="middle" fill="#161616" stroke="#161616" stroke-width="0.2">237</text>
<rect x="113.5" y="361.5" width="322" height="26" fill="#fff" stroke="#eef0f2" stroke-width="1"/>
<line x1="119" y1="374.4" x2="172.7" y2="374.4" stroke="#0b3661" stroke-width="2"/>
<text x="181.1" y="378.6" font-size="14.5" text-anchor="start" fill="#161616" stroke="#161616" stroke-width="0.2">Unilateral NS</text>
<line x1="288.7" y1="374.4" x2="342.7" y2="374.4" stroke="#8a1b2b" stroke-width="2"/>
<text x="350.7" y="378.6" font-size="14.5" text-anchor="start" fill="#161616" stroke="#161616" stroke-width="0.2">Bilateral NS</text>
<rect x="123.5" y="787.5" width="295" height="26" fill="#fff" stroke="#eef0f2" stroke-width="1"/>
<line x1="129.8" y1="800.5" x2="184.4" y2="800.5" stroke="#0b3661" stroke-width="2"/>
<text x="192.9" y="805.5" font-size="14.7" text-anchor="start" fill="#161616" stroke="#161616" stroke-width="0.2">No NS</text>
<line x1="259.4" y1="800.5" x2="314.3" y2="800.5" stroke="#8a1b2b" stroke-width="2"/>
<text x="322.9" y="805.5" font-size="14.7" text-anchor="start" fill="#161616" stroke="#161616" stroke-width="0.2">Unilateral NS</text>
<text class="lab" x="274.7" y="408.1" font-size="17" text-anchor="middle" fill="#111" stroke="#111" stroke-width="0.5">(f)</text>
<text class="lab" x="275" y="832" font-size="17" text-anchor="middle" fill="#111" stroke="#111" stroke-width="0.5">(g)</text>
</svg></body></html>
